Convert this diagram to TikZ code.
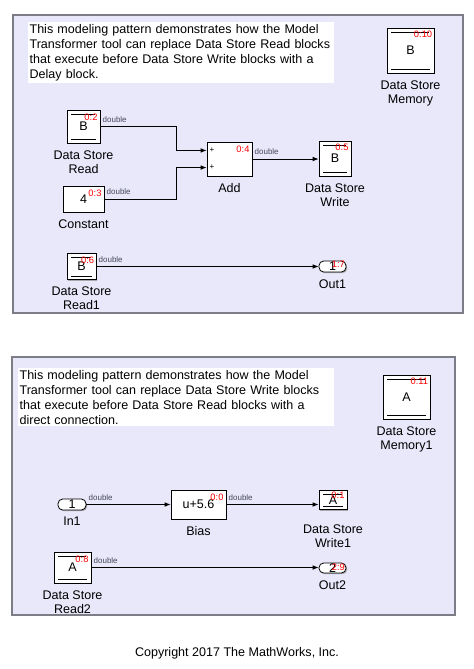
\documentclass[tikz,border=0pt]{standalone}
\usepackage{fontspec}
\setmainfont{Liberation Sans}
\usetikzlibrary{positioning,arrows.meta,shadows}

\definecolor{panelbg}{RGB}{232,232,250}
\definecolor{panelline}{RGB}{125,125,135}
\definecolor{sigtext}{RGB}{70,70,90}
\newcommand\blkfont{\fontsize{9.4}{10.8}\selectfont}
\newcommand\tinyfont{\fontsize{6}{7}\selectfont}
\newcommand\priofont{\fontsize{7}{8}\selectfont}

\tikzset{
  block/.style={draw, fill=white, line width=0.6pt, inner sep=0pt, font=\blkfont,
    drop shadow={shadow xshift=0.9pt, shadow yshift=-0.9pt, fill=black!45, opacity=0.7}},
  dstore/.style={block, path picture={
      \draw ([xshift=3pt,yshift=-3pt]path picture bounding box.north west)
         -- ([xshift=-4pt,yshift=-3pt]path picture bounding box.north east);
      \draw ([xshift=3pt,yshift=2.5pt]path picture bounding box.south west)
         -- ([xshift=-3pt,yshift=2.5pt]path picture bounding box.south east);}},
  port/.style={block, rounded corners=3.5pt},
  lbl/.style={align=center, font=\blkfont, inner sep=0pt},
  prio/.style={text=red, font=\priofont, inner sep=0pt, anchor=north east},
  sig/.style={text=sigtext, font=\tinyfont, inner sep=0pt, anchor=south west},
  wire/.style={-{Latex[length=4.5pt,width=3.5pt]}, line width=0.6pt},
  panel/.style={draw=panelline, fill=panelbg, line width=0.8pt},
  note/.style={fill=white, anchor=north west, align=left, inner xsep=1pt, inner ysep=1.5pt,
    font=\fontsize{9.4}{11.25}\selectfont}
}

\begin{document}
\begin{tikzpicture}[x=0.75pt,y=-0.75pt]
    \useasboundingbox (0,0) rectangle (474,669);

    % upper model
    \draw[panel] (13,15) rectangle (463,313);
    \node[note, text width=227pt] (note1) at (28,22) {This modeling pattern demonstrates how the Model\\
        Transformer tool can replace Data Store Read blocks\\
        that execute before Data Store Write blocks with a\\
        Delay block.};

    \node[dstore, minimum width=35.25pt, minimum height=33.75pt] (dsm) at (410.5,50.5) {B};
    \node[prio] (dsmprio) at ([xshift=-1.5pt,yshift=-2pt]dsm.north east) {0:10};
    \node[lbl, below=5pt of dsm] (dsmlbl) {Data Store\\Memory};

    \node[dstore, minimum width=24.75pt, minimum height=24.75pt] (dsr) at (83.5,126.5) {B};
    \node[prio] (dsrprio) at ([xshift=-2pt,yshift=-3pt]dsr.north east) {0:2};
    \node[lbl, below=5pt of dsr] (dsrlbl) {Data Store\\Read};
    \node[sig] (dsrsig) at ([xshift=1.5pt,yshift=3pt]dsr.east) {double};

    \node[block, minimum width=30.75pt, minimum height=19.5pt] (const) at (83.5,199) {4};
    \node[prio] (constprio) at ([xshift=-2pt,yshift=-3pt]const.north east) {0:3};
    \node[lbl, below=5pt of const] (constlbl) {Constant};
    \node[sig] (constsig) at ([xshift=1.5pt,yshift=3pt]const.east) {double};

    \node[block, minimum width=33.75pt, minimum height=25.5pt] (add) at (229.5,159) {};
    \node[prio] (addprio) at ([xshift=-2pt,yshift=-3pt]add.north east) {0:4};
    \node[lbl, below=5pt of add] (addlbl) {Add};
    \node[sig] (addsig) at ([xshift=1.5pt,yshift=3pt]add.east) {double};
    \coordinate (addin1) at ([yshift=6.4pt]add.west);
    \coordinate (addin2) at ([yshift=-6.4pt]add.west);
    \node[font=\tinyfont, inner sep=0pt, right=2pt of addin1] (addp1) {+};
    \node[font=\tinyfont, inner sep=0pt, right=2pt of addin2] (addp2) {+};
    \coordinate (join) at (176.5,159);

    \node[dstore, minimum width=24pt, minimum height=26.25pt] (dsw) at (335,158.5) {B};
    \node[prio] (dswprio) at ([xshift=-2pt,yshift=-2.5pt]dsw.north east) {0:5};
    \node[lbl, below=5pt of dsw] (dswlbl) {Data Store\\Write};

    \node[dstore, minimum width=21.75pt, minimum height=19.5pt] (dsr1) at (81.5,266.5) {B};
    \node[prio] (dsr1prio) at ([xshift=-1.5pt,yshift=-3pt]dsr1.north east) {0:6};
    \node[lbl, below=5pt of dsr1] (dsr1lbl) {Data Store\\Read1};
    \node[sig] (dsr1sig) at ([xshift=1.5pt,yshift=3pt]dsr1.east) {double};

    \node[port, minimum width=20.25pt, minimum height=8.25pt] (out1) at (332.5,266.5) {1};
    \node[prio] (out1prio) at ([xshift=-1pt,yshift=-0.5pt]out1.north east) {1:7};
    \node[lbl, below=5pt of out1] (out1lbl) {Out1};

    \draw[wire] (dsr.east) -| (join |- addin1) -- (addin1);
    \draw[wire] (const.east) -| (join |- addin2) -- (addin2);
    \draw[wire] (add.east) -- (add.east -| dsw.west);
    \draw[wire] (dsr1.east) -- (out1.west);

    % lower model
    \draw[panel] (12,357) rectangle (455,615);
    \node[note, text width=235pt] (note2) at (18,368) {This modeling pattern demonstrates how the Model\\
        Transformer tool can replace Data Store Write blocks\\
        that execute before Data Store Read blocks with a\\
        direct connection.};

    \node[dstore, minimum width=35.25pt, minimum height=33pt] (dsm1) at (406.5,397) {A};
    \node[prio] (dsm1prio) at ([xshift=-1.5pt,yshift=-2pt]dsm1.north east) {0:11};
    \node[lbl, below=5pt of dsm1] (dsm1lbl) {Data Store\\Memory1};

    \node[port, minimum width=21pt, minimum height=8.25pt] (in1) at (72,504.5) {1};
    \node[lbl, below=5pt of in1] (in1lbl) {In1};
    \node[sig] (in1sig) at ([xshift=1.5pt,yshift=3pt]in1.east) {double};

    \node[block, minimum width=41.25pt, minimum height=21.75pt] (bias) at (198.5,504.5) {u+5.6};
    \node[prio] (biasprio) at ([xshift=-2pt,yshift=-3pt]bias.north east) {0:0};
    \node[lbl, below=5pt of bias] (biaslbl) {Bias};
    \node[sig] (biassig) at ([xshift=1.5pt,yshift=3pt]bias.east) {double};

    \node[dstore, minimum width=21pt, minimum height=14.25pt] (dsw1) at (333,500) {A};
    \node[prio] (dsw1prio) at ([xshift=-2pt,yshift=-1pt]dsw1.north east) {0:1};
    \node[lbl, below=11pt of dsw1] (dsw1lbl) {Data Store\\Write1};

    \node[dstore, minimum width=27.75pt, minimum height=23.25pt] (dsr2) at (72.5,567.5) {A};
    \node[prio] (dsr2prio) at ([xshift=-2pt,yshift=-3pt]dsr2.north east) {0:8};
    \node[lbl, below=5pt of dsr2] (dsr2lbl) {Data Store\\Read2};
    \node[sig] (dsr2sig) at ([xshift=1.5pt,yshift=3pt]dsr2.east) {double};

    \node[port, minimum width=20.25pt, minimum height=7.5pt] (out2) at (332.5,568) {2};
    \node[prio] (out2prio) at ([xshift=-1pt,yshift=-0.5pt]out2.north east) {2:9};
    \node[lbl, below=5pt of out2] (out2lbl) {Out2};

    \draw[wire] (in1.east) -- (bias.west);
    \draw[wire] (bias.east) -- (bias.east -| dsw1.west);
    \draw[wire] (dsr2.east) -- (dsr2.east -| out2.west);

    \node[font=\blkfont] (copyright) at (237,653) {Copyright 2017 The MathWorks, Inc.};
\end{tikzpicture}
\end{document}
